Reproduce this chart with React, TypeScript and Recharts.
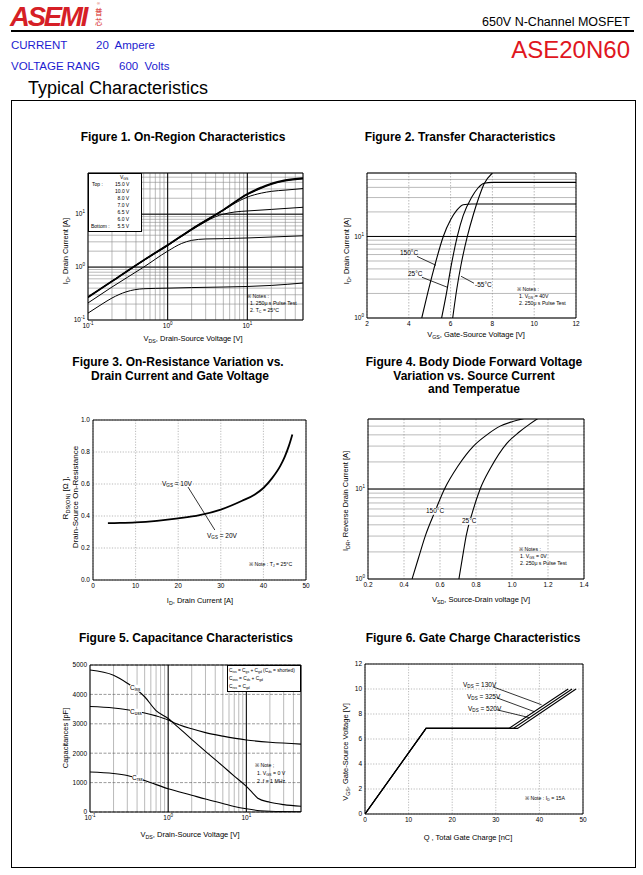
import React from 'react';
import {
  LineChart,
  Line,
  XAxis,
  YAxis,
  CartesianGrid,
  ReferenceLine,
  ReferenceArea,
} from 'recharts';

const FONT = '"Liberation Sans", Arial, Helvetica, sans-serif';

type Pt = [number, number];

// Figure 1 - On-Region Characteristics (VDS [V] vs ID [A])
const f1Vgs15: Pt[] = [[0.1, 0.27], [0.2, 0.54], [0.5, 1.35], [1, 2.6], [2, 5.2], [5, 12], [10, 24], [15, 32], [20, 38], [30, 44], [50, 48]];
const f1Vgs10: Pt[] = [[0.1, 0.27], [0.2, 0.54], [0.5, 1.35], [1, 2.6], [2, 5.2], [5, 12], [10, 23.5], [15, 31], [20, 36.5], [30, 42.5], [50, 46.5]];
const f1Vgs8: Pt[] = [[0.1, 0.27], [0.2, 0.54], [0.5, 1.35], [1, 2.6], [2, 5.2], [5, 11.8], [8, 18], [10, 21], [15, 25], [20, 27], [30, 28.5], [50, 30.5]];
const f1Vgs7: Pt[] = [[0.1, 0.27], [0.2, 0.54], [0.5, 1.33], [1, 2.55], [2, 5.0], [3, 7.2], [4, 9], [5, 10], [7, 11], [10, 11.5], [20, 12.3], [50, 13.5]];
const f1Vgs65: Pt[] = [[0.1, 0.21], [0.2, 0.42], [0.5, 1.0], [1, 2.0], [1.5, 2.8], [2, 3.2], [3, 3.4], [5, 3.45], [10, 3.55], [20, 3.7], [50, 3.9]];
const f1Vgs55: Pt[] = [[0.1, 0.135], [0.15, 0.2], [0.2, 0.26], [0.3, 0.34], [0.5, 0.39], [1, 0.4], [2, 0.41], [5, 0.42], [10, 0.43], [20, 0.45], [50, 0.5]];
const f1XTicks = [0.1, 0.2, 0.3, 0.4, 0.5, 0.6, 0.7, 0.8, 0.9, 1, 2, 3, 4, 5, 6, 7, 8, 9, 10, 20, 30, 40, 50];
const f1YTicks = [0.1, 0.2, 0.3, 0.4, 0.5, 0.6, 0.7, 0.8, 0.9, 1, 2, 3, 4, 5, 6, 7, 8, 9, 10, 20, 30, 40, 50];
const f1Decades = [0.1, 1, 10];
const f1VgsLabels = ['15.0 V', '10.0 V', '8.0 V', '7.0 V', '6.5 V', '6.0 V', '5.5 V'];

// Figure 2 - Transfer Characteristics (VGS [V] vs ID [A])
const f2T150: Pt[] = [[4.62, 1], [4.9, 2], [5.2, 4], [5.65, 10], [6.0, 16], [6.3, 21], [6.6, 24.5], [7, 25], [12, 25]];
const f2T25: Pt[] = [[5.57, 1], [5.8, 2], [6.0, 4], [6.32, 10], [6.6, 18], [7.0, 30], [7.3, 39], [7.6, 45], [8, 46], [12, 46]];
const f2Tm55: Pt[] = [[6.1, 1], [6.3, 2.3], [6.5, 4.5], [6.8, 10], [7.1, 19], [7.35, 30], [7.6, 44], [8.0, 60]];
const f2XTicks = [2, 4, 6, 8, 10, 12];
const f2YTicks = [1, 2, 3, 4, 5, 6, 7, 8, 9, 10, 20, 30, 40, 50];
const f2YLabels = [1, 10];

// Figure 3 - On-Resistance vs Drain Current
const f3Rds: Pt[] = [[3.5, 0.355], [5, 0.356], [10, 0.36], [15, 0.37], [20, 0.385], [25, 0.405], [30, 0.44], [35, 0.495], [38, 0.535], [40, 0.575], [42, 0.635], [44, 0.715], [45, 0.77], [46, 0.84], [46.8, 0.91]];
const f3XTicks = [0, 10, 20, 30, 40, 50];
const f3YTicks = [0, 0.2, 0.4, 0.6, 0.8, 1.0];

// Figure 4 - Body Diode Forward Voltage (VSD [V] vs IDR [A])
const f4T150: Pt[] = [[0.445, 1], [0.48, 1.7], [0.518, 3], [0.57, 5.5], [0.625, 10], [0.7, 18], [0.786, 30], [0.86, 40], [0.934, 50], [1.0, 56], [1.07, 61]];
const f4T25: Pt[] = [[0.705, 1], [0.73, 2], [0.745, 3], [0.78, 5.5], [0.823, 10], [0.88, 17], [0.97, 32], [1.04, 43], [1.1, 53], [1.145, 61]];
const f4XTicks = [0.2, 0.4, 0.6, 0.8, 1.0, 1.2, 1.4];
const f4YTicks = [1, 2, 3, 4, 5, 6, 7, 8, 9, 10, 20, 30, 40, 50];

// Figure 5 - Capacitance (VDS [V] vs C [pF])
const f5Ciss: Pt[] = [[0.1, 4830], [0.2, 4650], [0.3, 4380], [0.5, 3920], [0.7, 3450], [1, 3180], [1.2, 3000], [2, 2470], [3, 2060], [5, 1560], [7, 1220], [10, 870], [12, 650], [14, 470], [20, 330], [30, 250], [50, 195]];
const f5Coss: Pt[] = [[0.1, 3590], [0.2, 3540], [0.3, 3480], [0.5, 3370], [0.7, 3270], [1, 3130], [1.2, 3030], [2, 2830], [3, 2700], [5, 2580], [10, 2450], [20, 2370], [50, 2310]];
const f5Crss: Pt[] = [[0.1, 1360], [0.2, 1310], [0.3, 1240], [0.5, 1070], [1, 790], [2, 570], [3, 440], [5, 290], [7, 190], [10, 110], [15, 45], [20, 25], [50, 10]];
const f5XTicks = f1XTicks;
const f5YTicks = [0, 1000, 2000, 3000, 4000, 5000];

// Figure 6 - Gate Charge (Qg [nC] vs VGS [V])
const f6V130: Pt[] = [[0, 0], [14, 6.85], [33, 6.85], [46.6, 10]];
const f6V325: Pt[] = [[0, 0], [14, 6.85], [34, 6.85], [47.5, 10]];
const f6V520: Pt[] = [[0, 0], [14, 6.85], [35, 6.85], [48.4, 10]];
const f6XTicks = [0, 10, 20, 30, 40, 50];
const f6YTicks = [0, 2, 4, 6, 8, 10, 12];

const logFmt = (v: number): [string, string?] => ['10', String(Math.round(Math.log10(v)))];
const intFmt = (v: number): [string, string?] => [String(v)];
const oneFmt = (v: number): [string, string?] => [v.toFixed(1)];

interface AxisCfg {
  domain: [number, number];
  ticks: number[];
  labels: number[];
  log?: boolean;
  fmt: (v: number) => [string, string?];
}

const ML = 30;
const MR = 8;
const MT = 6;
const MB = 14;

const makeTick = (axis: 'x' | 'y', cfg: AxisCfg) => (p: any) => {
  const v = Number(p.payload.value);
  if (!cfg.labels.some((l) => Math.abs(l - v) < 1e-9)) return <g />;
  const [base, sup] = cfg.fmt(v);
  const isX = axis === 'x';
  return (
    <text
      x={isX ? p.x : p.x - 3}
      y={isX ? p.y + 8 : p.y + 2.3}
      textAnchor={isX ? 'middle' : 'end'}
      fontSize={6.5}
      fontFamily={FONT}
      fill="#000"
    >
      {base}
      {sup !== undefined && (
        <tspan dy={-3} fontSize={4.5}>
          {sup}
        </tspan>
      )}
    </text>
  );
};

const curve = (key: string, d: Pt[], sw = 1, type: 'monotone' | 'linear' = 'monotone') => (
  <Line
    key={key}
    data={d.map(([x, y]) => ({ x, y }))}
    dataKey="y"
    type={type}
    stroke="#000"
    strokeWidth={sw}
    dot={false}
    activeDot={false}
    isAnimationActive={false}
  />
);

const seg = (key: string, a: Pt, b: Pt) => (
  <ReferenceLine
    key={key}
    segment={[{ x: a[0], y: a[1] }, { x: b[0], y: b[1] }]}
    stroke="#000"
    strokeWidth={0.8}
  />
);

interface PlotProps {
  left: number;
  top: number;
  w: number;
  h: number;
  x: AxisCfg;
  y: AxisCfg;
  vDash?: string;
  hDash?: string;
  hColor?: string;
  vMajor?: number[];
  hMajor?: number[];
  children?: React.ReactNode;
}

const Plot = ({ left, top, w, h, x, y, vDash, hDash, hColor = '#8c8c8c', vMajor = [], hMajor = [], children }: PlotProps) => (
  <div style={{ position: 'absolute', left: left - ML, top: top - MT }}>
    <LineChart
      width={w + ML + MR}
      height={h + MT + MB}
      margin={{ top: MT, right: MR, bottom: 0, left: 0 }}
      style={{ overflow: 'visible' }}
    >
      <CartesianGrid horizontal={false} stroke="#8c8c8c" strokeWidth={0.6} strokeDasharray={vDash} />
      <CartesianGrid vertical={false} stroke={hColor} strokeWidth={0.6} strokeDasharray={hDash} />
      <XAxis
        dataKey="x"
        type="number"
        scale={x.log ? 'log' : 'linear'}
        domain={x.domain}
        ticks={x.ticks}
        interval={0}
        allowDataOverflow
        axisLine={false}
        tickLine={false}
        tickSize={0}
        tickMargin={0}
        height={MB}
        tick={makeTick('x', x)}
      />
      <YAxis
        type="number"
        scale={y.log ? 'log' : 'linear'}
        domain={y.domain}
        ticks={y.ticks}
        interval={0}
        allowDataOverflow
        axisLine={false}
        tickLine={false}
        tickSize={0}
        tickMargin={0}
        width={ML}
        tick={makeTick('y', y)}
      />
      {vMajor.map((v) => (
        <ReferenceLine key={'v' + v} x={v} stroke="#000" strokeWidth={1} />
      ))}
      {hMajor.map((v) => (
        <ReferenceLine key={'h' + v} y={v} stroke="#000" strokeWidth={1} />
      ))}
      <ReferenceArea
        x1={x.domain[0]}
        x2={x.domain[1]}
        y1={y.domain[0]}
        y2={y.domain[1]}
        fill="none"
        fillOpacity={0}
        stroke="#000"
        strokeWidth={1}
      />
      {children}
    </LineChart>
  </div>
);

interface TxtProps {
  x: number;
  y: number;
  s?: number;
  a?: 'start' | 'middle' | 'end';
  b?: boolean;
  r?: boolean;
  c?: string;
  bg?: boolean;
  style?: React.CSSProperties;
  children?: React.ReactNode;
}

const Txt = ({ x, y, s = 7.5, a = 'start', b, r, c = '#000', bg, style, children }: TxtProps) => {
  const tx = r ? '-50%' : a === 'start' ? '0' : a === 'middle' ? '-50%' : '-100%';
  return (
    <div
      style={{
        position: 'absolute',
        left: x,
        top: y,
        fontSize: s,
        lineHeight: 1,
        whiteSpace: 'nowrap',
        fontWeight: b ? 'bold' : 'normal',
        color: c,
        background: bg ? '#fff' : undefined,
        transform: `translate(${tx}, -50%)${r ? ' rotate(-90deg)' : ''}`,
        ...style,
      }}
    >
      {children}
    </div>
  );
};

const Sub = ({ children }: { children: React.ReactNode }) => (
  <span style={{ fontSize: '0.7em', position: 'relative', top: '0.3em' }}>{children}</span>
);

const BLUE = '#1c1cd0';
const RED = '#e0161e';
const LOGO = '#d61f26';

export default function App() {
  return (
    <div
      style={{
        position: 'absolute',
        left: 0,
        top: 0,
        width: 643,
        height: 875,
        background: '#fff',
        overflow: 'hidden',
        fontFamily: FONT,
      }}
    >
      {/* header */}
      <Txt x={10} y={17} s={27.5} c={LOGO} style={{ fontStyle: 'italic', fontWeight: 900, letterSpacing: -2.2 }}>
        ASEMI
      </Txt>
      <Txt x={97} y={4} s={4} c={LOGO}>®</Txt>
      <Txt x={95} y={12} s={7.5} c={LOGO} style={{ fontFamily: '"Noto Sans CJK SC"' }}>普</Txt>
      <Txt x={95} y={22} s={7.5} c={LOGO} style={{ fontFamily: '"Noto Sans CJK SC"' }}>芯</Txt>
      <Txt x={630} y={22} s={12.5} a="end">650V N-Channel MOSFET</Txt>
      <div style={{ position: 'absolute', left: 11, top: 30, width: 623, height: 1.5, background: '#000' }} />
      <Txt x={11} y={46} s={11.5} c={BLUE}>CURRENT</Txt>
      <Txt x={96} y={46} s={11.5} c={BLUE}>20&nbsp; Ampere</Txt>
      <Txt x={11} y={67} s={11.5} c={BLUE}>VOLTAGE RANG</Txt>
      <Txt x={119} y={67} s={11.5} c={BLUE}>600&nbsp; Volts</Txt>
      <Txt x={630} y={50} s={24} a="end" c={RED}>ASE20N60</Txt>
      <Txt x={28} y={88} s={18}>Typical Characteristics</Txt>
      <div
        style={{
          position: 'absolute',
          left: 11,
          top: 100,
          width: 625,
          height: 768,
          border: '1.5px solid #000',
          boxSizing: 'border-box',
        }}
      />

      {/* Figure 1 */}
      <Plot
        left={88}
        top={173}
        w={215}
        h={147}
        x={{ domain: [0.1, 50], ticks: f1XTicks, labels: f1Decades, log: true, fmt: logFmt }}
        y={{ domain: [0.1, 60], ticks: f1YTicks, labels: f1Decades, log: true, fmt: logFmt }}
        vMajor={[1, 10]}
        hMajor={[1, 10]}
      >
        {curve('v55', f1Vgs55)}
        {curve('v65', f1Vgs65)}
        {curve('v7', f1Vgs7)}
        {curve('v8', f1Vgs8)}
        {curve('v10', f1Vgs10, 1.3)}
        {curve('v15', f1Vgs15, 1.8)}
      </Plot>

      {/* Figure 2 */}
      <Plot
        left={367}
        top={173}
        w={209}
        h={145}
        x={{ domain: [2, 12], ticks: f2XTicks, labels: f2XTicks, fmt: intFmt }}
        y={{ domain: [1, 60], ticks: f2YTicks, labels: f2YLabels, log: true, fmt: logFmt }}
        vDash="1.5 1.5"
        hMajor={[10]}
      >
        {curve('t150', f2T150, 1.1)}
        {curve('t25', f2T25, 1.1)}
        {curve('tm55', f2Tm55, 1.1)}
        {seg('a150', [4.39, 5.7], [5.3, 4.43])}
        {seg('a25', [4.63, 3.16], [5.83, 2.39])}
        {seg('am55', [7.12, 2.67], [6.5, 3.25])}
      </Plot>

      {/* Figure 3 */}
      <Plot
        left={93}
        top={420}
        w={213}
        h={160}
        x={{ domain: [0, 50], ticks: f3XTicks, labels: f3XTicks, fmt: intFmt }}
        y={{ domain: [0, 1], ticks: f3YTicks, labels: f3YTicks, fmt: oneFmt }}
        vDash="1.2 1.5"
        hDash="1.2 1.5"
      >
        {curve('rds', f3Rds, 1.8)}
        {seg('avgs', [22.3, 0.581], [28.6, 0.3125])}
      </Plot>

      {/* Figure 4 */}
      <Plot
        left={368}
        top={419}
        w={216}
        h={160}
        x={{ domain: [0.2, 1.4], ticks: f4XTicks, labels: f4XTicks, fmt: oneFmt }}
        y={{ domain: [1, 60], ticks: f4YTicks, labels: f2YLabels, log: true, fmt: logFmt }}
        vDash="1.5 1.5"
        hMajor={[10]}
      >
        {curve('d150', f4T150, 1.1)}
        {curve('d25', f4T25, 1.1)}
      </Plot>

      {/* Figure 5 */}
      <Plot
        left={90}
        top={665}
        w={211}
        h={147}
        x={{ domain: [0.1, 50], ticks: f5XTicks, labels: f1Decades, log: true, fmt: logFmt }}
        y={{ domain: [0, 5000], ticks: f5YTicks, labels: f5YTicks, fmt: intFmt }}
        hDash="3 1.5"
        hColor="#555"
        vMajor={[1, 10]}
      >
        {curve('ciss', f5Ciss, 1.1)}
        {curve('coss', f5Coss, 1.1)}
        {curve('crss', f5Crss, 1.1)}
      </Plot>

      {/* Figure 6 */}
      <Plot
        left={365}
        top={664}
        w={218}
        h={150}
        x={{ domain: [0, 50], ticks: f6XTicks, labels: f6XTicks, fmt: intFmt }}
        y={{ domain: [0, 12], ticks: f6YTicks, labels: f6YTicks, fmt: intFmt }}
        vDash="1.2 1.5"
        hDash="1.2 1.5"
      >
        {curve('q130', f6V130, 1.1, 'linear')}
        {curve('q325', f6V325, 1.1, 'linear')}
        {curve('q520', f6V520, 1.1, 'linear')}
        {seg('a130', [29.3, 10.18], [40.5, 8.74])}
        {seg('a325', [30.2, 9.3], [38.9, 8.18])}
        {seg('a520', [30.2, 8.34], [37.8, 7.7])}
      </Plot>

      {/* titles */}
      <Txt x={183} y={137} s={12} b a="middle">Figure 1. On-Region Characteristics</Txt>
      <Txt x={460} y={137} s={12} b a="middle">Figure 2. Transfer Characteristics</Txt>
      <Txt x={178} y={362} s={12} b a="middle">Figure 3. On-Resistance Variation vs.</Txt>
      <Txt x={180} y={376} s={12} b a="middle">Drain Current and Gate Voltage</Txt>
      <Txt x={474} y={362} s={12} b a="middle">Figure 4. Body Diode Forward Voltage</Txt>
      <Txt x={474} y={376} s={12} b a="middle">Variation vs. Source Current</Txt>
      <Txt x={474} y={389} s={12} b a="middle">and Temperatue</Txt>
      <Txt x={186} y={638} s={12} b a="middle">Figure 5. Capacitance Characteristics</Txt>
      <Txt x={473} y={638} s={12} b a="middle">Figure 6. Gate Charge Characteristics</Txt>

      {/* axis titles */}
      <Txt x={193} y={339} s={7.5} a="middle">V<Sub>DS</Sub>, Drain-Source Voltage [V]</Txt>
      <Txt x={66} y={251} s={7.5} r>I<Sub>D</Sub>, Drain Current [A]</Txt>
      <Txt x={476} y={335} s={7.5} a="middle">V<Sub>GS</Sub>, Gate-Source Voltage [V]</Txt>
      <Txt x={347} y={251} s={7.5} r>I<Sub>D</Sub>, Drain Current [A]</Txt>
      <Txt x={200} y={601} s={7.5} a="middle">I<Sub>D</Sub>, Drain Current [A]</Txt>
      <Txt x={66} y={498} s={8} r>R<Sub>DS(ON)</Sub> [Ω ],</Txt>
      <Txt x={76} y={497} s={8} r>Drain-Source On-Resistance</Txt>
      <Txt x={481} y={600} s={7.5} a="middle">V<Sub>SD</Sub>, Source-Drain voltage [V]</Txt>
      <Txt x={346} y={501} s={7.5} r>I<Sub>DR</Sub>, Reverse Drain Current [A]</Txt>
      <Txt x={190} y={835} s={7.5} a="middle">V<Sub>DS</Sub>, Drain-Source Voltage [V]</Txt>
      <Txt x={66} y={738} s={7.5} r>Capacitances [pF]</Txt>
      <Txt x={468} y={838} s={7.5} a="middle">Q , Total Gate Charge [nC]</Txt>
      <Txt x={346} y={752} s={7.5} r>V<Sub>GS</Sub>, Gate-Source Voltage [V]</Txt>

      {/* Figure 1 annotations */}
      <div
        style={{
          position: 'absolute',
          left: 88,
          top: 173,
          width: 54,
          height: 59,
          border: '1px solid #000',
          background: '#fff',
          boxSizing: 'border-box',
        }}
      />
      <Txt x={120} y={178} s={5}>V<Sub>GS</Sub></Txt>
      <Txt x={92} y={184} s={5}>Top :</Txt>
      <Txt x={91} y={226} s={5}>Bottom :</Txt>
      {f1VgsLabels.map((l, i) => (
        <Txt key={l} x={i < 2 ? 115 : 117.5} y={184 + i * 7} s={5}>
          {l}
        </Txt>
      ))}
      <Txt x={247} y={297} s={5.2}>※ Notes :</Txt>
      <Txt x={250} y={304} s={5.2}>1. 250μ s Pulse Test</Txt>
      <Txt x={250} y={311} s={5.2}>2. T<Sub>C</Sub> = 25°C</Txt>

      {/* Figure 2 annotations */}
      <Txt x={400} y={253} s={6.5}>150°C</Txt>
      <Txt x={408} y={274} s={6.5}>25°C</Txt>
      <Txt x={475} y={285} s={6.5}>-55°C</Txt>
      <Txt x={517} y={290} s={5.2}>※ Notes :</Txt>
      <Txt x={519} y={297} s={5.2}>1. V<Sub>DS</Sub> = 40V</Txt>
      <Txt x={519} y={304} s={5.2}>2. 250μ s Pulse Test</Txt>

      {/* Figure 3 annotations */}
      <Txt x={162} y={484} s={6.5}>V<Sub>GS</Sub> = 10V</Txt>
      <Txt x={207} y={536} s={6.5}>V<Sub>GS</Sub> = 20V</Txt>
      <Txt x={249} y={565} s={5.2}>※ Note : T<Sub>J</Sub> = 25°C</Txt>

      {/* Figure 4 annotations */}
      <Txt x={426} y={511} s={6.5} bg>150°C</Txt>
      <Txt x={462} y={521} s={6.5} bg>25°C</Txt>
      <Txt x={519} y={550} s={5.2}>※ Notes :</Txt>
      <Txt x={520} y={557} s={5.2}>1. V<Sub>GS</Sub> = 0V</Txt>
      <Txt x={520} y={564} s={5.2}>2. 250μ s Pulse Test</Txt>

      {/* Figure 5 annotations */}
      <Txt x={130} y={688} s={6.5} bg>C<Sub>iss</Sub></Txt>
      <Txt x={130} y={712} s={6.5} bg>C<Sub>oss</Sub></Txt>
      <Txt x={132} y={778} s={6.5} bg>C<Sub>rss</Sub></Txt>
      <div
        style={{
          position: 'absolute',
          left: 227,
          top: 665,
          width: 74,
          height: 27,
          border: '1px solid #000',
          background: '#fff',
          boxSizing: 'border-box',
        }}
      />
      <Txt x={229} y={671} s={4.8}>C<Sub>iss</Sub> = C<Sub>gs</Sub> + C<Sub>gd</Sub> (C<Sub>ds</Sub> = shorted)</Txt>
      <Txt x={229} y={679} s={4.8}>C<Sub>oss</Sub> = C<Sub>ds</Sub> + C<Sub>gd</Sub></Txt>
      <Txt x={229} y={687} s={4.8}>C<Sub>rss</Sub> = C<Sub>gd</Sub></Txt>
      <Txt x={255} y={766} s={5.2}>※ Note ;</Txt>
      <Txt x={257} y={774} s={5.2}>1. V<Sub>GS</Sub> = 0 V</Txt>
      <Txt x={257} y={782} s={5.2}>2. f = 1 MHz</Txt>

      {/* Figure 6 annotations */}
      <Txt x={463} y={685} s={6.5}>V<Sub>DS</Sub> = 130V</Txt>
      <Txt x={467} y={697} s={6.5}>V<Sub>DS</Sub> = 325V</Txt>
      <Txt x={468} y={709} s={6.5}>V<Sub>DS</Sub> = 520V</Txt>
      <Txt x={525} y={799} s={5.2}>※ Note : I<Sub>D</Sub> = 15A</Txt>
    </div>
  );
}
